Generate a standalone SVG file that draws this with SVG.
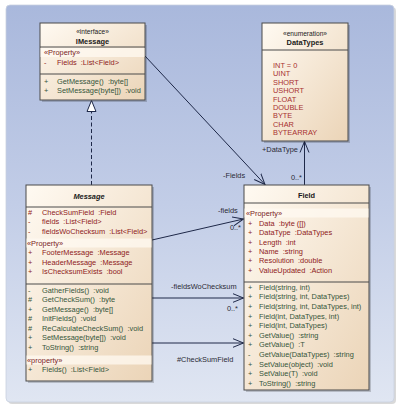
<svg xmlns="http://www.w3.org/2000/svg" width="400" height="409" viewBox="0 0 400 409">
<defs>
<linearGradient id="bg" x1="0" y1="0" x2="0" y2="1">
<stop offset="0" stop-color="#a9b8dc"/>
<stop offset="0.5" stop-color="#c2cde7"/>
<stop offset="1" stop-color="#e0e6f2"/>
</linearGradient>
<linearGradient id="box" x1="0" y1="0" x2="1" y2="1">
<stop offset="0" stop-color="#fffaf2"/>
<stop offset="1" stop-color="#ebd4b7"/>
</linearGradient>
<marker id="open" markerWidth="14" markerHeight="12" refX="11" refY="5" orient="auto" markerUnits="userSpaceOnUse" viewBox="0 0 14 10">
<path d="M0,0.5 L11,5 L0,9.5" fill="none" stroke="#1e2848" stroke-width="1"/>
</marker>
<marker id="tri" markerWidth="14" markerHeight="12" refX="11" refY="5" orient="auto" markerUnits="userSpaceOnUse" viewBox="0 0 14 10">
<path d="M0,0.5 L11,5 L0,9.5 Z" fill="#ffffff" stroke="#1e2848" stroke-width="1"/>
</marker>
</defs>
<style>
text{font-family:"Liberation Sans",Arial,sans-serif;font-size:7.4px;white-space:pre}
.hd{fill:#1a1a1a;text-anchor:middle}
.b{font-weight:bold}
.st{fill:#7a2424}
.at{fill:#8e2020}
.op{fill:#35553a}
.en{fill:#a83030}
.lb{fill:#2a2a35}
.frame{stroke:#4a4a4a;stroke-width:1;fill:url(#box)}
.shadow{fill:#000;opacity:0.18}
.sep{stroke:#4a4a4a;stroke-width:1}
.band{fill:#fffaf2;opacity:0.75}
.conn{stroke:#1e2848;stroke-width:1;fill:none}
</style>
<rect x="8" y="7" width="388" height="397" rx="4" fill="#000" opacity="0.15"/>
<rect x="6" y="5" width="388" height="397" rx="4" fill="url(#bg)" stroke="#c9d0e0" stroke-width="0.8"/>

<g id="connectors">
<line class="conn" x1="91.5" y1="185" x2="91.5" y2="100.5" stroke-dasharray="4,2.5" marker-end="url(#tri)"/>
<line class="conn" x1="145" y1="56" x2="265" y2="184.5" marker-end="url(#open)"/>
<line class="conn" x1="304.5" y1="185" x2="304.5" y2="141.5" marker-end="url(#open)"/>
<line class="conn" x1="152" y1="240" x2="243.5" y2="219" marker-end="url(#open)"/>
<line class="conn" x1="152" y1="298" x2="243.5" y2="298" marker-end="url(#open)"/>
<line class="conn" x1="152" y1="343" x2="243.5" y2="343" marker-end="url(#open)"/>
<text class="lb" x="223" y="177.5">-Fields</text>
<text class="lb" x="262" y="152">+DataType</text>
<text class="lb" x="302" y="180" text-anchor="end">0..*</text>
<text class="lb" x="218" y="212.5">-fields</text>
<text class="lb" x="241" y="229.5" text-anchor="end">0..*</text>
<text class="lb" x="171" y="288.5">-fieldsWoChecksum</text>
<text class="lb" x="238" y="310.5" text-anchor="end">0..*</text>
<text class="lb" x="177" y="361.5">#CheckSumField</text>
</g>

<g id="IMessage">
<rect class="shadow" x="42" y="25" width="105" height="77"/>
<rect class="frame" x="40" y="23" width="105" height="77"/>
<text class="hd" x="92.5" y="34" style="font-size:6.6px">«interface»</text>
<text class="hd b" x="92.5" y="43.5">IMessage</text>
<line class="sep" x1="40" y1="47" x2="145" y2="47"/>
<rect class="band" x="40.5" y="48" width="104" height="9"/>
<text class="st" x="44" y="55">«Property»</text>
<text class="at" x="44" y="64.5">-</text><text class="at" x="57" y="64.5">Fields  :List&lt;Field&gt;</text>
<line class="sep" x1="40" y1="74" x2="145" y2="74"/>
<text class="op" x="44" y="83.5">+</text><text class="op" x="57" y="83.5">GetMessage()  :byte[]</text>
<text class="op" x="44" y="92.5">+</text><text class="op" x="57" y="92.5">SetMessage(byte[])  :void</text>
</g>

<g id="DataTypes">
<rect class="shadow" x="264" y="25" width="86" height="118"/>
<rect class="frame" x="262" y="23" width="86" height="118"/>
<text class="hd" x="305" y="36" style="font-size:6.6px">«enumeration»</text>
<text class="hd b" x="305" y="45">DataTypes</text>
<line class="sep" x1="262" y1="50" x2="348" y2="50"/>
<text class="en" x="273" y="68">INT = 0</text>
<text class="en" x="273" y="76.4">UINT</text>
<text class="en" x="273" y="84.8">SHORT</text>
<text class="en" x="273" y="93.2">USHORT</text>
<text class="en" x="273" y="101.6">FLOAT</text>
<text class="en" x="273" y="110">DOUBLE</text>
<text class="en" x="273" y="118.4">BYTE</text>
<text class="en" x="273" y="126.8">CHAR</text>
<text class="en" x="273" y="135.2">BYTEARRAY</text>
</g>

<g id="Message">
<rect class="shadow" x="28" y="187" width="126" height="196"/>
<rect class="frame" x="26" y="185" width="126" height="196"/>
<text class="hd b" x="89" y="198.5" font-style="italic">Message</text>
<line class="sep" x1="26" y1="207" x2="152" y2="207"/>
<text class="at" x="28" y="215">#</text><text class="at" x="42" y="215">CheckSumField  :Field</text>
<text class="at" x="28" y="224.3">-</text><text class="at" x="42" y="224.3">fields  :List&lt;Field&gt;</text>
<text class="at" x="28" y="233.6">-</text><text class="at" x="42" y="233.6">fieldsWoChecksum  :List&lt;Field&gt;</text>
<rect class="band" x="26.5" y="238.5" width="125" height="9"/>
<text class="st" x="27" y="245.5">«Property»</text>
<text class="at" x="28" y="255.2">+</text><text class="at" x="42" y="255.2">FooterMessage  :Message</text>
<text class="at" x="28" y="264.6">+</text><text class="at" x="42" y="264.6">HeaderMessage  :Message</text>
<text class="at" x="28" y="274">+</text><text class="at" x="42" y="274">IsChecksumExists  :bool</text>
<line class="sep" x1="26" y1="284" x2="152" y2="284"/>
<text class="op" x="28" y="292.8">-</text><text class="op" x="42" y="292.8">GatherFields()  :void</text>
<text class="op" x="28" y="302.3">#</text><text class="op" x="42" y="302.3">GetCheckSum()  :byte</text>
<text class="op" x="28" y="311.8">+</text><text class="op" x="42" y="311.8">GetMessage()  :byte[]</text>
<text class="op" x="28" y="321.2">#</text><text class="op" x="42" y="321.2">InitFields()  :void</text>
<text class="op" x="28" y="330.6">#</text><text class="op" x="42" y="330.6">ReCalculateCheckSum()  :void</text>
<text class="op" x="28" y="340.1">+</text><text class="op" x="42" y="340.1">SetMessage(byte[])  :void</text>
<text class="op" x="28" y="349.6">+</text><text class="op" x="42" y="349.6">ToString()  :string</text>
<rect class="band" x="26.5" y="355.5" width="125" height="9"/>
<text class="st" x="27" y="362.8">«property»</text>
<text class="op" x="28" y="371.8">+</text><text class="op" x="42" y="371.8">Fields()  :List&lt;Field&gt;</text>
</g>

<g id="Field">
<rect class="shadow" x="246" y="187" width="125" height="205"/>
<rect class="frame" x="244" y="185" width="125" height="205"/>
<text class="hd b" x="306.5" y="197.5">Field</text>
<line class="sep" x1="244" y1="203" x2="369" y2="203"/>
<rect class="band" x="244.5" y="208.5" width="124" height="9"/>
<text class="st" x="246" y="216">«Property»</text>
<text class="at" x="248" y="225.8">+</text><text class="at" x="259" y="225.8">Data  :byte ([])</text>
<text class="at" x="248" y="235.1">+</text><text class="at" x="259" y="235.1">DataType  :DataTypes</text>
<text class="at" x="248" y="244.5">+</text><text class="at" x="259" y="244.5">Length  :int</text>
<text class="at" x="248" y="253.8">+</text><text class="at" x="259" y="253.8">Name  :string</text>
<text class="at" x="248" y="263.1">+</text><text class="at" x="259" y="263.1">Resolution  :double</text>
<text class="at" x="248" y="272.5">+</text><text class="at" x="259" y="272.5">ValueUpdated  :Action</text>
<line class="sep" x1="244" y1="282" x2="369" y2="282"/>
<text class="op" x="248" y="289.8">+</text><text class="op" x="259" y="289.8">Field(string, int)</text>
<text class="op" x="248" y="299.4">+</text><text class="op" x="259" y="299.4">Field(string, int, DataTypes)</text>
<text class="op" x="248" y="309">+</text><text class="op" x="259" y="309">Field(string, int, DataTypes, int)</text>
<text class="op" x="248" y="318.6">+</text><text class="op" x="259" y="318.6">Field(int, DataTypes, int)</text>
<text class="op" x="248" y="328.2">+</text><text class="op" x="259" y="328.2">Field(int, DataTypes)</text>
<text class="op" x="248" y="337.8">+</text><text class="op" x="259" y="337.8">GetValue()  :string</text>
<text class="op" x="248" y="347.4">+</text><text class="op" x="259" y="347.4">GetValue()  :T</text>
<text class="op" x="248" y="357">-</text><text class="op" x="259" y="357">GetValue(DataTypes)  :string</text>
<text class="op" x="248" y="366.6">+</text><text class="op" x="259" y="366.6">SetValue(object)  :void</text>
<text class="op" x="248" y="376.2">+</text><text class="op" x="259" y="376.2">SetValue(T)  :void</text>
<text class="op" x="248" y="385.8">+</text><text class="op" x="259" y="385.8">ToString()  :string</text>
</g>
</svg>
